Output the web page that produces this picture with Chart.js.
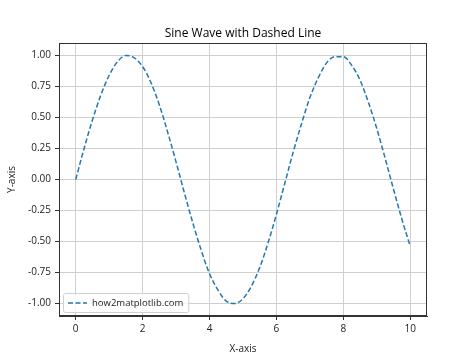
<!DOCTYPE html>
<html>
<head>
<meta charset="utf-8">
<script src="https://cdn.jsdelivr.net/npm/chart.js@4"></script>
<style>
  html, body { margin: 0; padding: 0; background: #fff; }
  #wrap { width: 474px; height: 355px; }
</style>
</head>
<body>
<div id="wrap"><canvas id="sineChart" width="474" height="355"></canvas></div>
<script>
// ========================
// DATA
// ========================
const xValues = [0, 0.25, 0.5, 0.75, 1, 1.25, 1.5, 1.75, 2, 2.25, 2.5, 2.75, 3, 3.25, 3.5, 3.75,
  4, 4.25, 4.5, 4.75, 5, 5.25, 5.5, 5.75, 6, 6.25, 6.5, 6.75, 7, 7.25, 7.5, 7.75,
  8, 8.25, 8.5, 8.75, 9, 9.25, 9.5, 9.75, 10];
const yValues = [0.00, 0.25, 0.48, 0.68, 0.84, 0.95, 1.00, 0.98, 0.91, 0.78, 0.60, 0.38, 0.14, -0.11, -0.35, -0.57,
  -0.76, -0.89, -0.98, -1.00, -0.96, -0.86, -0.71, -0.51, -0.28, -0.03, 0.22, 0.45, 0.66, 0.82, 0.94, 0.99,
  0.99, 0.92, 0.80, 0.62, 0.41, 0.17, -0.08, -0.32, -0.54];
const xTicks = [0, 2, 4, 6, 8, 10];
const yTicks = [-1.00, -0.75, -0.50, -0.25, 0.00, 0.25, 0.50, 0.75, 1.00];
const seriesLabel = "how2matplotlib.com";
const chartTitle = "Sine Wave with Dashed Line";

const FONT = "'Open Sans', 'Noto Sans', sans-serif";
const LINE_COLOR = "#1f77b4";

// ========================
// PLUGIN: title, frame, legend
// ========================
const decorPlugin = {
  id: "decor",
  afterDraw(chart) {
    const { ctx, chartArea: a } = chart;
    ctx.save();

    // top/right spines
    ctx.strokeStyle = "#333";
    ctx.lineWidth = 1;
    ctx.strokeRect(a.left + 0.5, a.top + 0.5, a.right - a.left - 1, a.bottom - a.top - 1);

    // title
    ctx.fillStyle = "#000";
    ctx.font = "12px " + FONT;
    ctx.textAlign = "center";
    ctx.textBaseline = "alphabetic";
    ctx.fillText(chartTitle, (a.left + a.right) / 2, a.top - 6);

    // legend box (lower left)
    ctx.font = "9.5px " + FONT;
    const textW = ctx.measureText(seriesLabel).width;
    const bx = a.left + 4, bh = 19;
    const by = a.bottom - 4 - bh;
    const bw = 28 + textW + 6;
    ctx.fillStyle = "rgba(255,255,255,0.8)";
    ctx.strokeStyle = "#d0d0d0";
    ctx.beginPath();
    ctx.roundRect(bx + 0.5, by + 0.5, bw, bh, 2);
    ctx.fill();
    ctx.stroke();

    ctx.strokeStyle = LINE_COLOR;
    ctx.lineWidth = 1.5;
    ctx.setLineDash([5, 2.5]);
    ctx.beginPath();
    ctx.moveTo(bx + 5, by + bh / 2 + 0.5);
    ctx.lineTo(bx + 24, by + bh / 2 + 0.5);
    ctx.stroke();
    ctx.setLineDash([]);

    ctx.fillStyle = "#222";
    ctx.textAlign = "left";
    ctx.textBaseline = "middle";
    ctx.fillText(seriesLabel, bx + 29, by + bh / 2 + 1);

    ctx.restore();
  }
};

// ========================
// CHART
// ========================
const ctx = document.getElementById("sineChart").getContext("2d");

new Chart(ctx, {
  type: "line",
  data: {
    datasets: [
      {
        label: seriesLabel,
        data: xValues.map((x, i) => ({ x, y: yValues[i] })),
        borderColor: LINE_COLOR,
        borderWidth: 1.5,
        borderDash: [5, 2.5],
        pointRadius: 0,
        tension: 0.4,
        cubicInterpolationMode: "monotone",
        fill: false
      }
    ]
  },
  options: {
    responsive: false,
    animation: false,
    layout: { padding: { top: 43, right: 47, left: 6, bottom: 0 } },
    plugins: {
      legend: { display: false },
      tooltip: { enabled: false }
    },
    scales: {
      x: {
        type: "linear",
        min: -0.5,
        max: 10.5,
        afterBuildTicks: axis => { axis.ticks = xTicks.map(v => ({ value: v })); },
        afterFit: axis => { axis.height = 39; },
        ticks: {
          color: "#222",
          font: { family: FONT, size: 10 },
          padding: 3,
          maxRotation: 0,
          callback: v => String(v)
        },
        grid: { color: "#d0d0d0", tickColor: "#333", tickLength: 4 },
        border: { color: "#333" },
        title: {
          display: true,
          text: "X-axis",
          color: "#222",
          font: { family: FONT, size: 10 },
          padding: { top: 2, bottom: 0 }
        }
      },
      y: {
        type: "linear",
        min: -1.1,
        max: 1.1,
        afterBuildTicks: axis => { axis.ticks = yTicks.map(v => ({ value: v })); },
        afterFit: axis => { axis.width = 53; },
        ticks: {
          color: "#222",
          font: { family: FONT, size: 10 },
          padding: 4,
          callback: v => v.toFixed(2)
        },
        grid: { color: "#d0d0d0", tickColor: "#333", tickLength: 4 },
        border: { color: "#333" },
        title: {
          display: true,
          text: "Y-axis",
          color: "#222",
          font: { family: FONT, size: 10 },
          padding: { top: 0, bottom: 4 }
        }
      }
    }
  },
  plugins: [decorPlugin]
});
</script>
</body>
</html>
